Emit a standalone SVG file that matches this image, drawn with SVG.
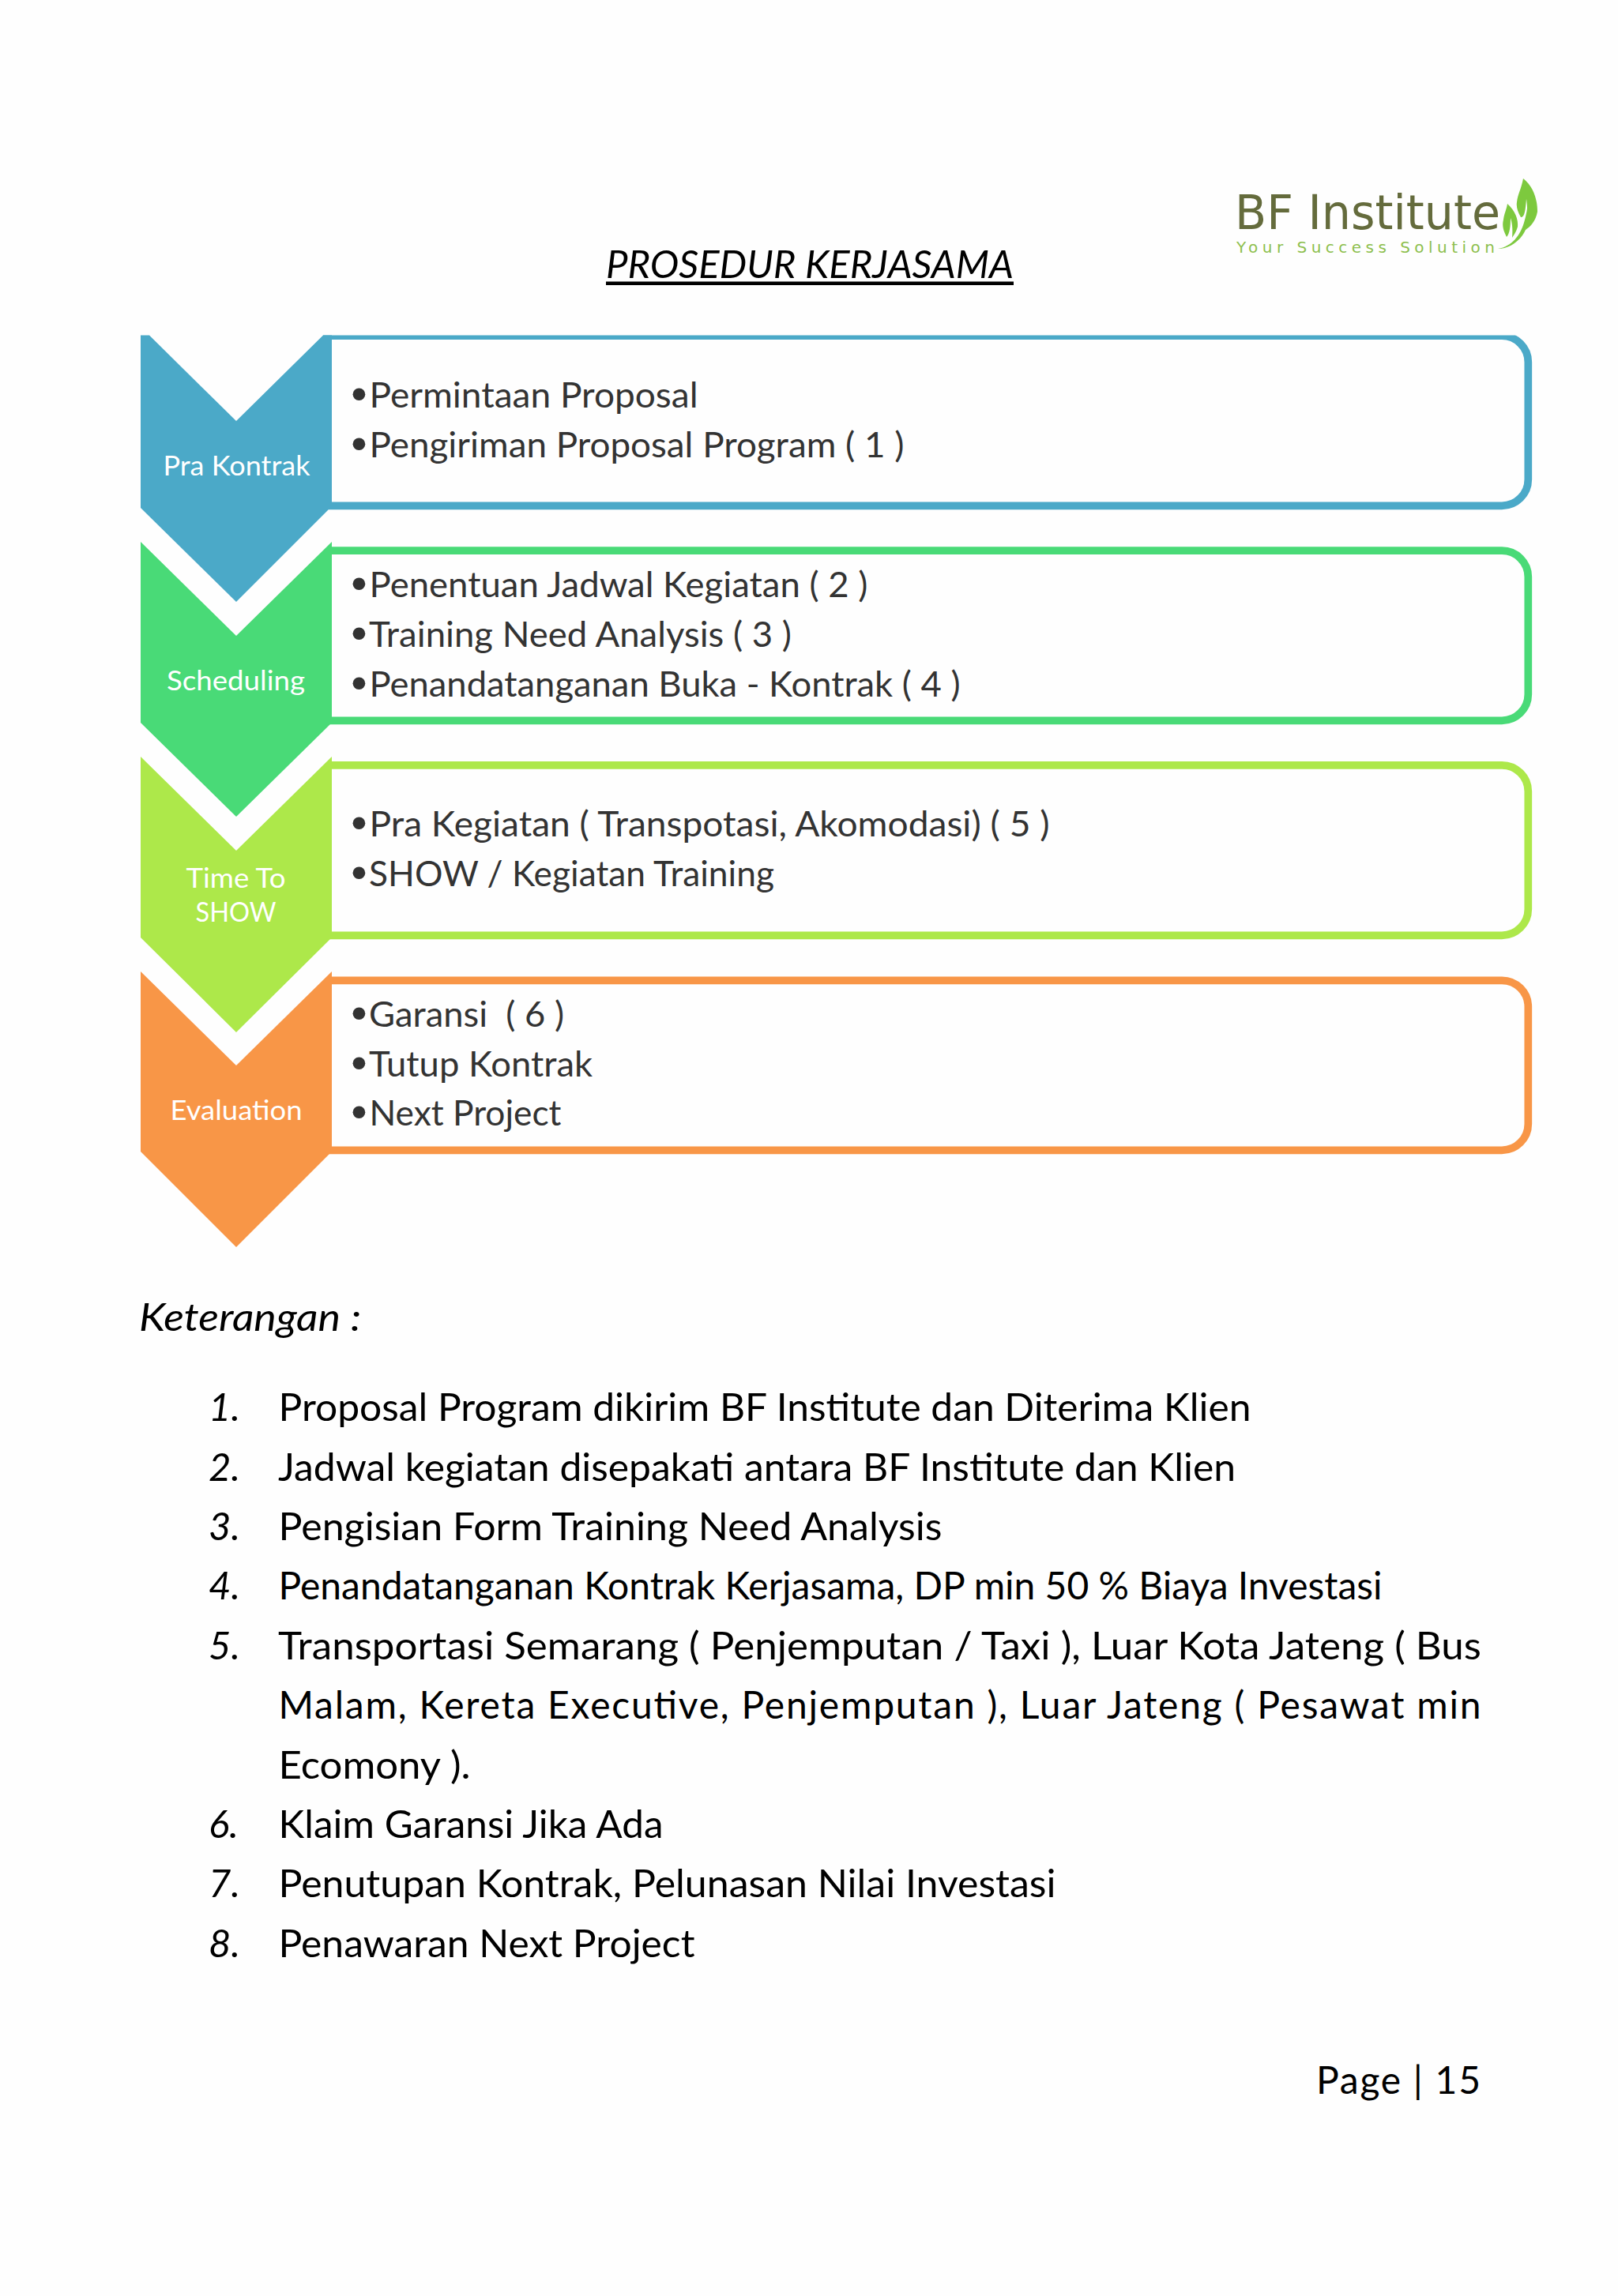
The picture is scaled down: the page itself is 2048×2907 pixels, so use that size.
<svg xmlns="http://www.w3.org/2000/svg" width="2048" height="2907" viewBox="0 0 2048 2907">
<style>
text{font-family:Lato,"Open Sans","Liberation Sans",sans-serif;white-space:pre}
.box{font-size:44.500px;fill:#333}
.bul{font-family:"DejaVu Sans",sans-serif;font-size:54px}
.lab{font-size:35px;fill:#fff;text-anchor:middle}
.li{font-size:48px;fill:#000}
.num{font-size:49px;fill:#000;font-style:italic}
.ring{fill:none;stroke-width:9.7}
</style>
<defs><clipPath id="page"><rect x="0" y="424.5" width="2048" height="2400"/></clipPath></defs>
<rect width="2048" height="2907" fill="#fefefe"/>

<g id="logo">
<text x="1563" y="290" lengthAdjust="spacingAndGlyphs" textLength="336" style="font-family:'DejaVu Sans',sans-serif;font-size:60px;fill:#646b3c">BF Institute</text>
<text x="1565" y="320" textLength="327" style="font-family:'DejaVu Sans',sans-serif;font-size:20px;fill:#8dbf4d">Your Success Solution</text>
<path fill="#7dc93e" d="M1928 226C1943 238 1946 256 1946 268C1944 280 1937 287 1931 291C1933 276 1934 264 1932 252C1931 264 1930 276 1925 275C1921 268 1919 262 1920 256C1921 246 1926 238 1928 226Z"/>
<path fill="#7dc93e" d="M1908 258C1918 267 1922 278 1921 287C1919 294 1916 298 1914 301C1915 290 1914 282 1912 276C1912 286 1911 296 1907 300C1903 292 1901 286 1903 278C1904 270 1907 265 1908 258Z"/>
<path fill="#7dc93e" d="M1896 315C1914 312 1924 298 1929 282C1932 272 1934 262 1934 252C1937 268 1936 286 1927 298C1919 309 1907 315 1896 315Z"/>
</g>

<g id="title">
<text x="767" y="351.500" textLength="516" lengthAdjust="spacingAndGlyphs" style="font-size:48px;font-style:italic;fill:#000">PROSEDUR KERJASAMA</text>
<rect x="767" y="356.500" width="516" height="4.500" fill="#000"/>
</g>

<g id="step-pra-kontrak">
<path class="ring" stroke="#4ba9c8" clip-path="url(#page)" d="M409 425.2H1901a33.3 33.3 0 0 1 33.3 33.3V607a33.3 33.3 0 0 1 -33.3 33.3H416"/>
<polygon fill="#4ba9c8" points="178,424.6 189,424.6 299,533 409,424.6 420,424.6 420,641 299,762 178,643"/>
<text class="lab" x="299.500" y="602" textLength="186" lengthAdjust="spacingAndGlyphs">Pra Kontrak</text>
<text class="box" y="515.500"><tspan class="bul" x="438.500" dy="3">•</tspan><tspan x="467.500" dy="-3" textLength="416" lengthAdjust="spacingAndGlyphs">Permintaan Proposal</tspan></text>
<text class="box" y="578.500"><tspan class="bul" x="438.500" dy="3">•</tspan><tspan x="467.500" dy="-3" textLength="677" lengthAdjust="spacingAndGlyphs">Pengiriman Proposal Program ( 1 )</tspan></text>
</g>

<g id="step-scheduling">
<path class="ring" stroke="#49da77" d="M420 697.200H1901a33.3 33.3 0 0 1 33.3 33.3V879a33.3 33.3 0 0 1 -33.3 33.3H416"/>
<polygon fill="#49da77" points="178,686 299,805 420,686 420,915 299,1034 178,915"/>
<text class="lab" x="298.500" y="874" textLength="175" lengthAdjust="spacingAndGlyphs">Scheduling</text>
<text class="box" y="756"><tspan class="bul" x="438.500" dy="3">•</tspan><tspan x="467.500" dy="-3" textLength="631" lengthAdjust="spacingAndGlyphs">Penentuan Jadwal Kegiatan ( 2 )</tspan></text>
<text class="box" y="818.800"><tspan class="bul" x="438.500" dy="3">•</tspan><tspan x="467" dy="-3" textLength="535" lengthAdjust="spacingAndGlyphs">Training Need Analysis ( 3 )</tspan></text>
<text class="box" y="881.500"><tspan class="bul" x="438.500" dy="3">•</tspan><tspan x="467.500" dy="-3" textLength="748" lengthAdjust="spacingAndGlyphs">Penandatanganan Buka - Kontrak ( 4 )</tspan></text>
</g>

<g id="step-time-to-show">
<path class="ring" stroke="#ade84a" d="M420 968.800H1901a33.3 33.3 0 0 1 33.3 33.3V1151a33.3 33.3 0 0 1 -33.3 33.3H416"/>
<polygon fill="#ade84a" points="178,958 299,1077 420,958 420,1187 299,1307 178,1187"/>
<text class="lab" x="298.500" y="1123.500" textLength="126" lengthAdjust="spacingAndGlyphs">Time To</text>
<text class="lab" x="298.500" y="1167" textLength="102" lengthAdjust="spacingAndGlyphs">SHOW</text>
<text class="box" y="1059"><tspan class="bul" x="438.500" dy="3">•</tspan><tspan x="467.500" dy="-3" textLength="861" lengthAdjust="spacingAndGlyphs">Pra Kegiatan ( Transpotasi, Akomodasi) ( 5 )</tspan></text>
<text class="box" y="1122"><tspan class="bul" x="438.500" dy="3">•</tspan><tspan x="467" dy="-3" textLength="513" lengthAdjust="spacingAndGlyphs">SHOW / Kegiatan Training</tspan></text>
</g>

<g id="step-evaluation">
<path class="ring" stroke="#f89647" d="M420 1241.300H1901a33.3 33.3 0 0 1 33.3 33.3V1423a33.3 33.3 0 0 1 -33.3 33.3H416"/>
<polygon fill="#f89647" points="178,1230 299,1349 420,1230 420,1458 299,1579 178,1458"/>
<text class="lab" x="299" y="1418" textLength="167" lengthAdjust="spacingAndGlyphs">Evaluation</text>
<text class="box" y="1300"><tspan class="bul" x="438.500" dy="3">•</tspan><tspan x="467" dy="-3" textLength="247" lengthAdjust="spacingAndGlyphs">Garansi  ( 6 )</tspan></text>
<text class="box" y="1362.800"><tspan class="bul" x="438.500" dy="3">•</tspan><tspan x="467" dy="-3" textLength="283" lengthAdjust="spacingAndGlyphs">Tutup Kontrak</tspan></text>
<text class="box" y="1425.300"><tspan class="bul" x="438.500" dy="3">•</tspan><tspan x="467.500" dy="-3" textLength="243" lengthAdjust="spacingAndGlyphs">Next Project</tspan></text>
</g>

<g id="keterangan">
<text x="176" y="1685" textLength="281" lengthAdjust="spacingAndGlyphs" style="font-size:49px;font-style:italic;fill:#000">Keterangan :</text>
<text class="num" x="264" y="1799.300">1.</text><text class="li" x="352.500" y="1799.300" textLength="1231" lengthAdjust="spacingAndGlyphs">Proposal Program dikirim BF Institute dan Diterima Klien</text>
<text class="num" x="264" y="1874.800">2.</text><text class="li" x="352" y="1874.800" textLength="1212" lengthAdjust="spacingAndGlyphs">Jadwal kegiatan disepakati antara BF Institute dan Klien</text>
<text class="num" x="264" y="1950">3.</text><text class="li" x="352.500" y="1950" textLength="840" lengthAdjust="spacingAndGlyphs">Pengisian Form Training Need Analysis</text>
<text class="num" x="264" y="2025.400">4.</text><text class="li" x="352.500" y="2025.400" textLength="1397" lengthAdjust="spacingAndGlyphs">Penandatanganan Kontrak Kerjasama, DP min 50 % Biaya Investasi</text>
<text class="num" x="264" y="2100.800">5.</text><text class="li" x="352" y="2100.800" textLength="1523" lengthAdjust="spacingAndGlyphs">Transportasi Semarang ( Penjemputan / Taxi ), Luar Kota Jateng ( Bus</text>
<text class="li" x="352.500" y="2176.200" textLength="1522" lengthAdjust="spacing">Malam, Kereta Executive, Penjemputan ), Luar Jateng ( Pesawat min</text>
<text class="li" x="352.500" y="2251.600" textLength="243" lengthAdjust="spacingAndGlyphs">Ecomony ).</text>
<text class="num" x="264" y="2327">6.</text><text class="li" x="352.500" y="2327" textLength="487" lengthAdjust="spacingAndGlyphs">Klaim Garansi Jika Ada</text>
<text class="num" x="264" y="2402.400">7.</text><text class="li" x="352.500" y="2402.400" textLength="984" lengthAdjust="spacingAndGlyphs">Penutupan Kontrak, Pelunasan Nilai Investasi</text>
<text class="num" x="264" y="2478">8.</text><text class="li" x="352.500" y="2478" textLength="527" lengthAdjust="spacingAndGlyphs">Penawaran Next Project</text>
</g>

<g id="page-number">
<text class="li" x="1666" y="2651" textLength="208" lengthAdjust="spacing">Page | 15</text>
</g>
</svg>
